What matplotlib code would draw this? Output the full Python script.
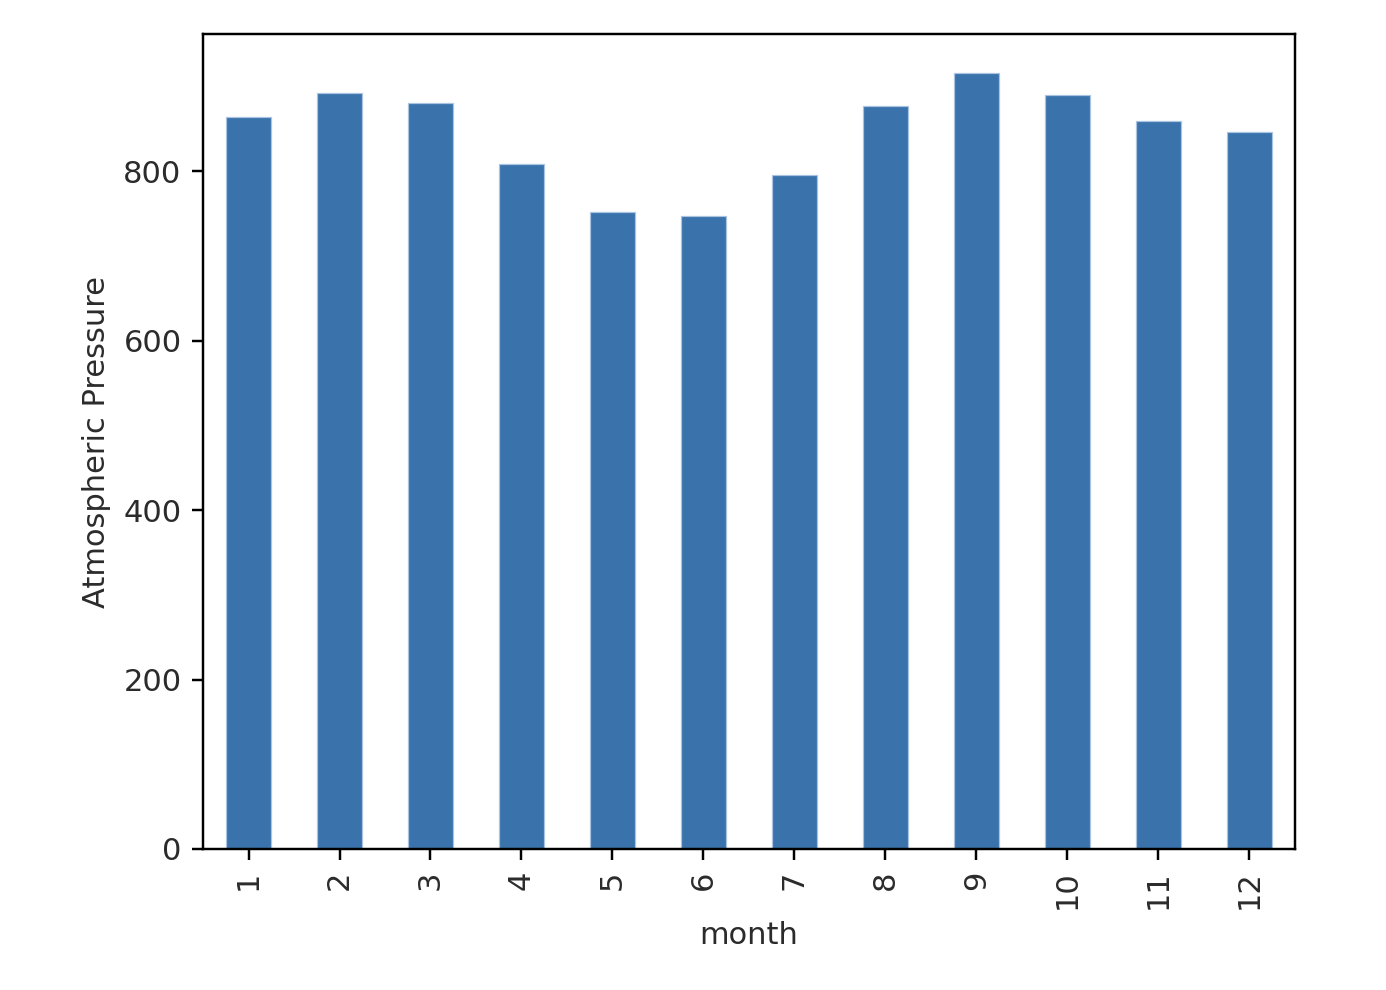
import matplotlib
matplotlib.use("Agg")
import matplotlib.pyplot as plt

months = [1, 2, 3, 4, 5, 6, 7, 8, 9, 10, 11, 12]
pressure = [864, 892, 880, 809, 752, 747, 796, 877, 916, 890, 859, 846]

plt.rcParams['text.color'] = '#2b2b2b'
plt.rcParams['axes.labelcolor'] = '#2b2b2b'
plt.rcParams['xtick.labelcolor'] = '#2b2b2b'
plt.rcParams['ytick.labelcolor'] = '#2b2b2b'

fig = plt.figure(figsize=(1386/220, 990/220), dpi=220)
ax = fig.add_axes([203/1386, 1-849/990, (1295-203)/1386, (849-34)/990])
x = list(range(len(months)))
ax.bar(x, pressure, width=0.5, color="#3a73ac", edgecolor="#a9c3e0", linewidth=0.4)
ax.set_xlim(-0.5, len(months) - 0.5)
ax.set_ylim(0, 962)
ax.set_xticks(x)
ax.set_xticklabels([str(m) for m in months], rotation=90)
ax.set_yticks([0, 200, 400, 600, 800])
ax.set_xlabel("month")
ax.set_ylabel("Atmospheric Pressure")
fig.savefig("out.png", dpi=220)
